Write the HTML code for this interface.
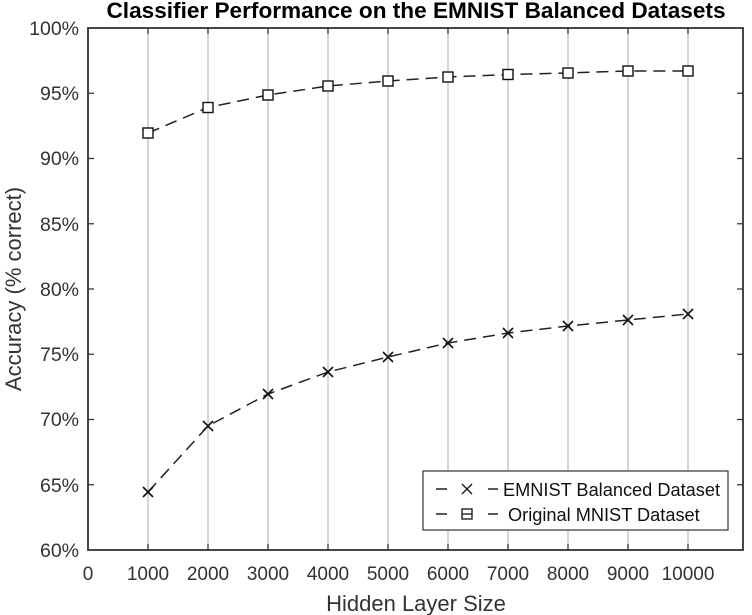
<!DOCTYPE html><html><head><style>body{margin:0;background:#fff}svg{display:block}text{font-family:"Liberation Sans",Arial,sans-serif;fill:#333}</style></head><body>
<svg width="752" height="615" xmlns="http://www.w3.org/2000/svg">
<text x="416" y="18" text-anchor="middle" font-size="22.6" font-weight="bold" style="fill:#000">Classifier Performance on the EMNIST Balanced Datasets</text>
<g stroke="#c8c8c8" stroke-width="1.5">
<line x1="148" y1="28" x2="148" y2="550"/><line x1="208" y1="28" x2="208" y2="550"/><line x1="268" y1="28" x2="268" y2="550"/><line x1="328" y1="28" x2="328" y2="550"/><line x1="388" y1="28" x2="388" y2="550"/><line x1="448" y1="28" x2="448" y2="550"/><line x1="508" y1="28" x2="508" y2="550"/><line x1="568" y1="28" x2="568" y2="550"/><line x1="628" y1="28" x2="628" y2="550"/><line x1="688" y1="28" x2="688" y2="550"/>
</g>
<g stroke="#333" stroke-width="1.2">
<path d="M148 28v6M208 28v6M268 28v6M328 28v6M388 28v6M448 28v6M508 28v6M568 28v6M628 28v6M688 28v6"/>
<path d="M148 550v-6M208 550v-6M268 550v-6M328 550v-6M388 550v-6M448 550v-6M508 550v-6M568 550v-6M628 550v-6M688 550v-6"/>
<path d="M88 93.25h6M88 158.5h6M88 223.75h6M88 289h6M88 354.25h6M88 419.5h6M88 484.75h6"/>
<path d="M743 93.25h-6M743 158.5h-6M743 223.75h-6M743 289h-6M743 354.25h-6M743 419.5h-6M743 484.75h-6"/>
</g>
<rect x="88" y="28" width="655" height="522" fill="none" stroke="#333" stroke-width="1.8"/>
<g font-size="19.5" text-anchor="end">
<text x="79" y="35">100%</text><text x="79" y="100">95%</text><text x="79" y="165">90%</text><text x="79" y="231">85%</text><text x="79" y="296">80%</text><text x="79" y="361">75%</text><text x="79" y="426">70%</text><text x="79" y="492">65%</text><text x="79" y="557">60%</text>
</g>
<g font-size="19" text-anchor="middle">
<text x="88" y="580">0</text><text x="148" y="580">1000</text><text x="208" y="580">2000</text><text x="268" y="580">3000</text><text x="328" y="580">4000</text><text x="388" y="580">5000</text><text x="448" y="580">6000</text><text x="508" y="580">7000</text><text x="568" y="580">8000</text><text x="628" y="580">9000</text><text x="688" y="580">10000</text>
</g>
<text x="416" y="611" text-anchor="middle" font-size="22">Hidden Layer Size</text>
<text transform="translate(21,289) rotate(-90)" text-anchor="middle" font-size="22">Accuracy (% correct)</text>
<polyline fill="none" stroke="#222" stroke-width="1.5" stroke-dasharray="12,7" points="148,492 208,426 268,394 328,372 388,357 448,343 508,333 568,326 628,320 688,314"/>
<polyline fill="none" stroke="#222" stroke-width="1.5" stroke-dasharray="12,7" points="148,133 208,107.5 268,95 328,86 388,81 448,77 508,74.5 568,73 628,71 688,71"/>
<g stroke="#111" stroke-width="1.6">
<path d="M143 487l10 10M153 487l-10 10M203 421l10 10M213 421l-10 10M263 389l10 10M273 389l-10 10M323 367l10 10M333 367l-10 10M383 352l10 10M393 352l-10 10M443 338l10 10M453 338l-10 10M503 328l10 10M513 328l-10 10M563 321l10 10M573 321l-10 10M623 315l10 10M633 315l-10 10M683 309l10 10M693 309l-10 10"/>
</g>
<g fill="#fff" stroke="#111" stroke-width="1.4">
<rect x="143" y="128" width="10" height="10"/><rect x="203" y="102.5" width="10" height="10"/><rect x="263" y="90" width="10" height="10"/><rect x="323" y="81" width="10" height="10"/><rect x="383" y="76" width="10" height="10"/><rect x="443" y="72" width="10" height="10"/><rect x="503" y="69.5" width="10" height="10"/><rect x="563" y="68" width="10" height="10"/><rect x="623" y="66" width="10" height="10"/><rect x="683" y="66" width="10" height="10"/>
</g>
<rect x="423" y="471" width="305" height="59" fill="#fff" stroke="#333" stroke-width="1.2"/>
<g stroke="#222" stroke-width="1.5">
<path d="M436 489h11M488 489h10M436 514h11M488 514h10"/>
<path d="M462 484l10 10M472 484l-10 10"/>
</g>
<rect x="462" y="509" width="10" height="10" fill="#fff" stroke="#222" stroke-width="1.4"/>
<line x1="462" y1="514" x2="472" y2="514" stroke="#222" stroke-width="1.4"/>
<g font-size="18.2"><text x="503" y="496" style="fill:#111">EMNIST Balanced Dataset</text><text x="508" y="521" style="fill:#111">Original MNIST Dataset</text></g>
</svg></body></html>
